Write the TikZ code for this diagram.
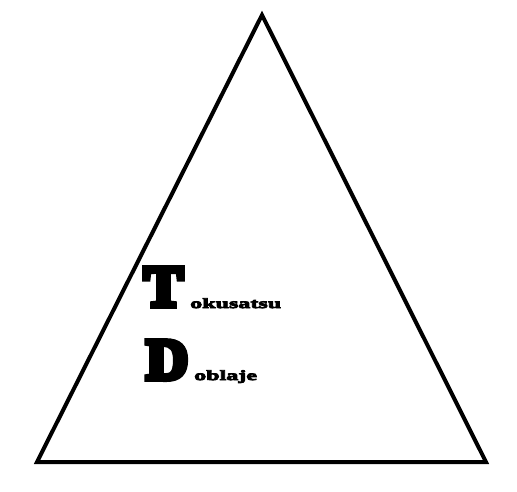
\documentclass[tikz,border=0pt]{standalone}
\usepackage{fontspec}
\newfontfamily\fatbig[FakeBold=10]{Liberation Serif Bold}
\newfontfamily\fatsmall[FakeBold=6,FakeStretch=1.72]{Liberation Serif Bold}
\begin{document}
\begin{tikzpicture}[x=1pt,y=-1pt,
  tri/.style={line width=4pt,line join=miter},
  big/.style={inner sep=0pt,anchor=base west,font=\fatbig\fontsize{58}{58}\selectfont},
  small/.style={inner sep=0pt,anchor=base west,font=\fatsmall\fontsize{14}{14}\selectfont}]
\useasboundingbox (0,0) rectangle (517,491);
\coordinate (apex) at (262,15);
\coordinate (bl) at (37,462);
\coordinate (br) at (486,462);
\draw[tri] (apex) -- (bl) -- (br) -- cycle;
\node[big] (T) at (144,306) {T};
\node[small] (tok) at (190,308) {okusatsu};
\node[big] (D) at (146,379) {D};
\node[small] (dob) at (194,380) {oblaje};
\end{tikzpicture}
\end{document}
